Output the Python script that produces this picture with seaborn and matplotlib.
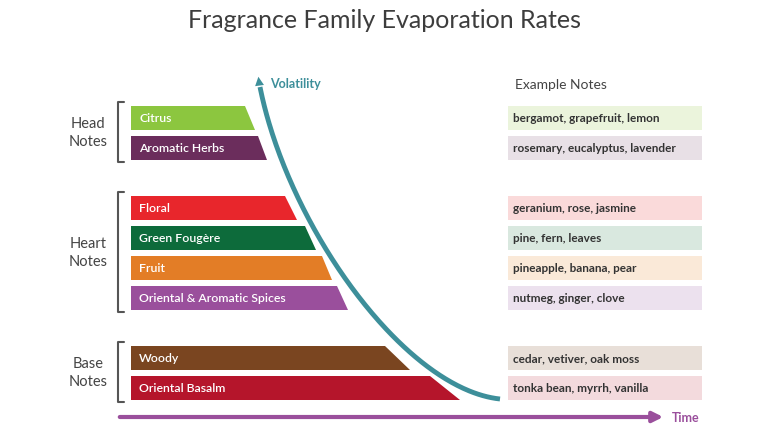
import numpy as np
import matplotlib
matplotlib.use("Agg")
import matplotlib.pyplot as plt
import seaborn as sns
from matplotlib.patches import Polygon, Rectangle, FancyArrowPatch

sns.set_theme(style="white")
plt.rcParams['font.family'] = ['Lato', 'DejaVu Sans']

families = ["Citrus", "Aromatic Herbs", "Floral", "Green Fougère", "Fruit",
            "Oriental & Aromatic Spices", "Woody", "Oriental Basalm"]
top_right = [245, 258, 285, 305, 322, 337, 385, 430]
bottom_right = [255, 267, 297, 316, 332, 348, 410, 460]
examples = ["bergamot, grapefruit, lemon", "rosemary, eucalyptus, lavender",
            "geranium, rose, jasmine", "pine, fern, leaves", "pineapple, banana, pear",
            "nutmeg, ginger, clove", "cedar, vetiver, oak moss", "tonka bean, myrrh, vanilla"]
groups = ["Head\nNotes", "Heart\nNotes", "Base\nNotes"]

colors = ["#8cc63f", "#6b2d5c", "#e8262c", "#0d6b3b", "#e37d26", "#9a4f9c", "#7a4520", "#b5152b"]
tints = ["#ebf4dc", "#e8e0e6", "#fadada", "#d9e8df", "#fae9d8", "#ece1ee", "#e8dfd8", "#f3dadd"]
row_top = [107, 137, 197, 227, 257, 287, 347, 377]
group_span = [(103, 163), (193, 313), (343, 403)]
row_h = 24

fig = plt.figure(figsize=(7.68, 4.35), dpi=100)
ax = fig.add_axes([0, 0, 1, 1])
ax.set_xlim(0, 768)
ax.set_ylim(435, 0)
ax.axis("off")

ax.text(384, 21, "Fragrance Family Evaporation Rates", ha="center", va="center",
        fontsize=18, color="#3d3d3d")

for i, name in enumerate(families):
    y0, y1 = row_top[i], row_top[i] + row_h
    poly = Polygon([(131, y0), (top_right[i], y0), (bottom_right[i], y1), (131, y1)],
                   closed=True, color=colors[i], lw=0)
    ax.add_patch(poly)
    ax.text(139, (y0 + y1) / 2, name, color="white", fontsize=8.8, va="center", ha="left",
            fontweight="semibold")
    ax.add_patch(Rectangle((508, y0), 194, row_h, color=tints[i], lw=0))
    ax.text(513, (y0 + y1) / 2, examples[i], color="#333333", fontsize=8.5,
            va="center", ha="left", fontweight="bold")

for (a, b), g in zip(group_span, groups):
    ax.plot([124, 118, 118, 124], [a, a, b, b], color="#555555", lw=1.5)
    ax.text(88, (a + b) / 2, g, ha="center", va="center", fontsize=10.5, color="#444444",
            linespacing=1.4)

# volatility curve (cubic bezier)
P = np.array([(500, 400), (405, 390), (288, 228), (260, 88)])
t = np.linspace(0, 1, 200)[:, None]
B = ((1 - t) ** 3) * P[0] + 3 * ((1 - t) ** 2) * t * P[1] + 3 * (1 - t) * t ** 2 * P[2] + t ** 3 * P[3]
ax.plot(B[:, 0], B[:, 1], color="#3d8f9a", lw=3.5, solid_capstyle="butt")
ax.add_patch(FancyArrowPatch((260, 90), (258, 75), arrowstyle="-|>", mutation_scale=16,
                             color="#3d8f9a", lw=0))
ax.text(270, 84, "Volatility", color="#3d8f9a", fontsize=9, va="center", fontweight="bold")

ax.text(561, 85, "Example Notes", ha="center", va="center", fontsize=10, color="#444444")

ax.add_patch(FancyArrowPatch((117, 418), (666, 418), arrowstyle="-|>", mutation_scale=15,
                             color="#9a4f9c", lw=3))
ax.text(672, 418, "Time", color="#9a4f9c", fontsize=9, va="center", fontweight="bold")

fig.savefig("out.png", dpi=100, facecolor="white")
